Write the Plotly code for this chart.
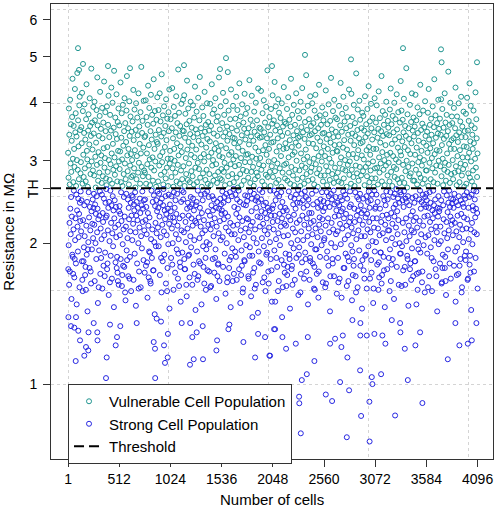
import numpy as np
import plotly.graph_objects as go

# threshold resistance (MOhm)
TH = 2.62

# resistance of cells above TH, in units of 0.01 MOhm
vulnerable_x100 = [
    312, 276, 388, 341, 267, 405, 296, 359, 284, 331, 372, 449, 303, 270, 356, 318, 291, 427, 345, 379, 265, 338, 301, 462, 287, 366, 322, 274, 394, 411, 349, 282,
    298, 354, 327, 419, 268, 383, 309, 277, 344, 396, 289, 333, 271, 368, 437, 315, 302, 264, 348, 377, 293, 325, 408, 356, 281, 339, 472, 299, 362, 317, 286, 391,
    343, 279, 401, 366, 306, 263, 328, 385, 294, 452, 357, 272, 313, 339, 283, 374, 421, 297, 351, 308, 269, 389, 335, 278, 362, 319, 443, 290, 304, 381, 347, 275,
    266, 392, 321, 284, 358, 413, 301, 337, 273, 376, 295, 348, 430, 311, 268, 399, 326, 287, 353, 467, 305, 280, 371, 342, 292, 416, 334, 271, 363, 315, 388, 299,
    357, 288, 314, 441, 270, 336, 379, 302, 265, 395, 323, 281, 347, 408, 296, 361, 274, 329, 384, 455, 308, 285, 352, 318, 267, 402, 339, 293, 373, 310, 277, 346,
    301, 364, 279, 425, 332, 289, 386, 316, 263, 349, 398, 274, 307, 371, 340, 283, 418, 297, 355, 326, 268, 381, 311, 476, 291, 344, 365, 278, 320, 403, 286, 337,
    283, 339, 404, 268, 372, 311, 295, 358, 434, 277, 324, 389, 302, 266, 347, 415, 290, 333, 376, 305, 272, 360, 448, 286, 318, 383, 299, 341, 264, 367, 329, 410,
    326, 271, 385, 349, 293, 418, 307, 364, 280, 338, 459, 298, 313, 375, 267, 344, 392, 284, 321, 356, 275, 406, 332, 290, 369, 303, 265, 381, 347, 426, 296, 315,
    368, 303, 277, 352, 429, 289, 335, 264, 391, 318, 300, 374, 283, 345, 412, 271, 327, 361, 294, 470, 308, 380, 339, 268, 356, 322, 286, 397, 313, 274, 348, 405,
    292, 347, 414, 265, 336, 378, 304, 281, 359, 445, 317, 273, 388, 329, 296, 365, 270, 342, 401, 309, 285, 353, 323, 278, 394, 337, 267, 371, 305, 432, 290, 350,
    317, 382, 270, 343, 297, 409, 331, 288, 366, 453, 276, 305, 352, 325, 264, 390, 339, 282, 374, 310, 299, 421, 346, 273, 358, 320, 287, 398, 334, 268, 363, 306,
    348, 281, 330, 397, 266, 356, 312, 437, 293, 378, 301, 272, 343, 386, 318, 279, 408, 327, 295, 364, 269, 339, 373, 284, 315, 452, 307, 350, 275, 392, 323, 288,
    273, 361, 305, 419, 338, 284, 376, 297, 266, 345, 402, 319, 290, 355, 331, 464, 278, 384, 309, 342, 268, 368, 295, 426, 313, 352, 281, 336, 393, 302, 270, 327,
    335, 292, 369, 307, 411, 276, 348, 385, 263, 320, 358, 294, 439, 329, 281, 373, 304, 266, 340, 396, 315, 287, 362, 272, 351, 417, 298, 333, 378, 309, 285, 344,
    389, 310, 276, 352, 325, 446, 298, 269, 367, 338, 284, 413, 306, 357, 291, 331, 265, 382, 346, 274, 320, 399, 303, 283, 366, 340, 278, 428, 314, 295, 353, 336,
    304, 351, 423, 287, 337, 271, 379, 316, 293, 404, 345, 266, 362, 324, 280, 391, 309, 335, 468, 277, 354, 299, 318, 372, 284, 341, 265, 387, 328, 292, 360, 414,
    277, 329, 366, 301, 442, 285, 348, 392, 269, 314, 357, 296, 335, 406, 273, 380, 322, 289, 346, 370, 307, 264, 398, 339, 283, 355, 318, 431, 294, 363, 275, 327,
    360, 296, 319, 387, 272, 344, 410, 305, 283, 367, 332, 268, 355, 449, 291, 321, 376, 309, 279, 340, 395, 266, 313, 358, 287, 328, 418, 300, 347, 274, 383, 336,
    323, 370, 286, 338, 265, 401, 311, 354, 293, 429, 276, 345, 382, 302, 268, 334, 363, 290, 317, 457, 281, 349, 306, 393, 272, 327, 368, 298, 340, 412, 284, 356,
    290, 342, 398, 274, 326, 361, 303, 267, 384, 347, 415, 295, 319, 371, 282, 336, 264, 352, 307, 436, 288, 375, 330, 279, 358, 313, 299, 390, 343, 271, 366, 322,
    344, 279, 307, 377, 424, 292, 334, 266, 359, 318, 285, 396, 341, 303, 273, 365, 328, 451, 297, 350, 281, 312, 383, 337, 269, 405, 324, 290, 371, 346, 276, 315,
    368, 314, 283, 338, 271, 393, 325, 296, 357, 440, 305, 269, 346, 378, 288, 320, 411, 275, 332, 364, 301, 286, 389, 352, 264, 317, 372, 294, 341, 309, 426, 280,
    299, 356, 331, 268, 417, 287, 343, 372, 310, 277, 395, 324, 265, 361, 339, 293, 461, 304, 282, 349, 386, 316, 272, 335, 403, 291, 367, 327, 279, 352, 308, 380,
    329, 285, 374, 302, 348, 266, 412, 337, 291, 359, 316, 278, 387, 343, 296, 433, 321, 270, 364, 309, 286, 397, 352, 275, 333, 371, 299, 318, 264, 345, 408, 289,
    275, 362, 318, 394, 290, 336, 267, 351, 422, 305, 283, 370, 328, 296, 347, 455, 271, 313, 383, 339, 287, 358, 301, 266, 376, 324, 293, 401, 342, 309, 279, 365,
    353, 297, 340, 271, 386, 312, 428, 284, 359, 326, 265, 374, 307, 345, 291, 399, 277, 333, 368, 302, 288, 416, 350, 274, 320, 381, 298, 337, 269, 362, 314, 444,
    308, 384, 276, 330, 367, 294, 345, 407, 269, 321, 356, 285, 339, 473, 300, 263, 377, 316, 291, 352, 334, 278, 395, 310, 282, 363, 327, 418, 296, 348, 272, 371,
    338, 272, 355, 309, 415, 287, 366, 320, 267, 390, 344, 298, 331, 281, 377, 305, 436, 276, 349, 315, 293, 360, 268, 384, 328, 301, 354, 274, 402, 339, 286, 323,
    286, 346, 312, 380, 265, 427, 333, 297, 358, 319, 274, 369, 341, 304, 289, 392, 327, 270, 354, 448, 310, 283, 375, 336, 293, 316, 361, 268, 343, 405, 300, 351,
    315, 369, 292, 341, 406, 278, 324, 387, 303, 266, 353, 334, 287, 418, 297, 362, 272, 339, 376, 311, 284, 347, 465, 294, 326, 358, 269, 399, 318, 281, 332, 373,
    361, 301, 274, 335, 389, 318, 283, 352, 430, 292, 340, 266, 373, 307, 329, 285, 398, 345, 270, 316, 364, 296, 411, 337, 279, 355, 305, 288, 382, 322, 264, 347,
    294, 337, 378, 268, 321, 409, 305, 348, 282, 365, 312, 439, 276, 330, 393, 299, 357, 271, 341, 318, 286, 384, 327, 265, 352, 303, 420, 290, 368, 335, 277, 311,
]

# the highest vulnerable cells, read individually
vulnerable_peak_cells = [100, 1580, 3350, 3730, 2370, 2830, 4090, 3736, 2040, 150, 400, 110, 1160, 620, 1520]
vulnerable_peak_vals = [5.22, 4.97, 5.22, 5.19, 5.05, 4.94, 4.87, 4.87, 4.78, 4.83, 4.78, 4.69, 4.80, 4.73, 4.71]

# resistance of cells below TH, in units of 0.01 MOhm
strong_x100 = [
    176, 198, 163, 221, 174, 237, 209, 251, 152, 228, 189, 187, 172, 214, 259, 169, 185, 203, 226, 181, 254, 148, 235, 217, 192, 249, 206, 231, 161, 244, 223, 258,
    212, 247, 183, 167, 158, 224, 183, 196, 241, 207, 171, 178, 159, 218, 189, 245, 143, 194, 201, 257, 227, 177, 239, 213, 174, 164, 234, 194, 220, 248, 205, 238,
    255, 219, 166, 242, 200, 231, 185, 252, 211, 237, 149, 225, 161, 193, 229, 258, 172, 215, 186, 204, 254, 160, 232, 222, 179, 249, 208, 170, 191, 244, 227, 261,
    229, 176, 181, 213, 238, 155, 245, 202, 165, 259, 188, 221, 241, 168, 210, 252, 197, 235, 146, 226, 247, 216, 182, 239, 206, 177, 187, 173, 166, 219, 163, 234,
    240, 208, 231, 185, 257, 223, 162, 171, 199, 179, 214, 251, 178, 228, 157, 151, 217, 255, 193, 184, 205, 248, 170, 238, 225, 168, 187, 212, 244, 158, 229, 253,
    203, 251, 220, 167, 242, 235, 190, 257, 211, 147, 229, 245, 181, 224, 238, 200, 160, 174, 216, 249, 232, 161, 207, 241, 195, 258, 222, 237, 184, 247, 213, 173,
    248, 224, 179, 239, 209, 182, 153, 232, 218, 169, 192, 227, 191, 166, 164, 204, 259, 186, 214, 245, 175, 175, 253, 201, 141, 240, 221, 197, 247, 210, 234, 258,
    216, 238, 197, 255, 228, 171, 244, 206, 186, 157, 249, 219, 183, 241, 261, 212, 189, 235, 225, 252, 164, 231, 208, 158, 177, 237, 199, 254, 220, 145, 242, 227,
    234, 186, 252, 215, 180, 200, 227, 159, 257, 222, 238, 173, 247, 209, 231, 194, 255, 218, 168, 190, 204, 162, 226, 182, 178, 150, 245, 213, 259, 191, 229, 248,
    257, 211, 185, 176, 176, 222, 201, 163, 154, 237, 215, 244, 188, 229, 189, 169, 239, 207, 251, 196, 226, 242, 163, 218, 249, 180, 235, 203, 172, 223, 144, 241,
    221, 245, 192, 167, 259, 170, 227, 183, 205, 238, 181, 217, 254, 148, 232, 210, 247, 197, 178, 224, 164, 255, 213, 186, 159, 194, 201, 258, 175, 234, 219, 251,
    174, 199, 229, 161, 214, 162, 241, 220, 252, 185, 235, 207, 248, 173, 226, 186, 194, 238, 152, 217, 245, 170, 180, 181, 210, 237, 166, 223, 249, 203, 242, 231,
    235, 258, 206, 178, 244, 225, 251, 190, 232, 156, 216, 255, 200, 165, 169, 228, 247, 212, 177, 184, 257, 221, 146, 187, 209, 252, 195, 166, 218, 261, 172, 239,
    209, 192, 254, 187, 231, 167, 248, 219, 237, 203, 259, 176, 227, 245, 149, 213, 171, 193, 179, 223, 157, 160, 242, 206, 184, 183, 253, 215, 241, 198, 226, 246,
    252, 225, 170, 168, 211, 188, 196, 258, 218, 154, 234, 249, 188, 222, 173, 205, 255, 177, 160, 214, 247, 163, 238, 200, 251, 228, 142, 245, 192, 182, 260, 217,
    227, 181, 248, 234, 205, 257, 165, 220, 241, 197, 169, 213, 232, 158, 244, 189, 226, 191, 209, 238, 174, 164, 216, 235, 201, 259, 185, 229, 175, 150, 237, 222,
    241, 214, 259, 193, 229, 150, 247, 204, 186, 255, 178, 223, 158, 210, 166, 252, 231, 198, 239, 217, 257, 184, 226, 245, 161, 234, 207, 180, 220, 173, 238, 190,
    218, 162, 235, 171, 178, 208, 228, 258, 189, 185, 145, 224, 251, 200, 176, 179, 163, 215, 242, 195, 230, 249, 167, 211, 237, 254, 186, 221, 244, 203, 260, 155,
    189, 196, 224, 244, 157, 172, 212, 255, 182, 229, 247, 203, 238, 168, 219, 258, 191, 185, 251, 174, 226, 241, 207, 148, 248, 215, 232, 167, 186, 183, 221, 199,
    232, 255, 209, 181, 242, 223, 160, 178, 159, 194, 215, 259, 194, 172, 245, 206, 238, 153, 174, 219, 227, 187, 248, 212, 240, 198, 257, 225, 165, 234, 246, 203,
    205, 238, 161, 218, 164, 186, 257, 192, 244, 226, 179, 252, 211, 239, 143, 170, 255, 200, 221, 248, 185, 181, 214, 259, 170, 242, 228, 196, 251, 209, 235, 156,
    244, 212, 186, 165, 229, 241, 168, 220, 251, 199, 234, 153, 247, 215, 237, 258, 177, 226, 177, 204, 254, 190, 231, 218, 162, 249, 187, 208, 166, 183, 222, 239,
    258, 227, 242, 198, 216, 151, 192, 171, 210, 179, 185, 237, 222, 257, 170, 157, 204, 229, 251, 161, 235, 213, 248, 193, 224, 255, 179, 241, 207, 232, 145, 184,
    219, 249, 175, 235, 168, 207, 188, 227, 189, 252, 160, 231, 214, 245, 197, 258, 222, 238, 168, 211, 247, 184, 173, 254, 202, 226, 149, 160, 216, 259, 192, 237,
    239, 201, 254, 226, 180, 245, 215, 159, 182, 169, 208, 237, 191, 191, 222, 164, 171, 229, 210, 252, 187, 175, 247, 146, 219, 241, 203, 258, 230, 176, 248, 213,
    226, 186, 213, 158, 194, 257, 166, 232, 180, 205, 220, 185, 251, 238, 152, 228, 255, 199, 242, 216, 261, 178, 234, 209, 249, 224, 163, 244, 200, 190, 257, 190,
    254, 162, 197, 247, 221, 175, 239, 258, 211, 178, 163, 249, 226, 202, 245, 188, 185, 252, 147, 218, 241, 207, 176, 181, 229, 167, 213, 195, 250, 234, 170, 223,
    211, 244, 183, 183, 252, 227, 148, 172, 216, 159, 201, 194, 173, 248, 223, 259, 191, 237, 209, 245, 165, 174, 254, 218, 198, 242, 228, 157, 251, 206, 239, 255,
    247, 190, 229, 161, 208, 238, 170, 257, 222, 244, 196, 214, 186, 158, 235, 226, 259, 183, 241, 203, 232, 248, 176, 217, 170, 211, 143, 238, 228, 252, 199, 234,
    237, 181, 217, 202, 247, 164, 165, 177, 189, 241, 225, 258, 210, 177, 187, 166, 155, 222, 253, 205, 233, 194, 244, 213, 259, 181, 239, 228, 168, 249, 219, 243,
    224, 208, 248, 238, 179, 255, 221, 192, 150, 245, 212, 171, 196, 229, 241, 172, 252, 206, 179, 219, 185, 247, 231, 157, 161, 214, 243, 201, 239, 227, 253, 188,
    249, 184, 192, 215, 257, 225, 167, 168, 238, 204, 251, 180, 188, 173, 214, 144, 254, 221, 199, 240, 235, 259, 174, 211, 248, 227, 186, 237, 258, 209, 232, 160,
]

# the low tail of the strong population, read individually
strong_tail_cells = [
    4, 80, 30, 63, 103, 120, 77, 180, 163, 203, 205, 293, 295, 257, 380, 387, 477, 490, 420, 523,
    687, 857, 870, 872, 960, 970, 997, 999, 887, 930, 1220, 1257, 1350, 1243, 1287, 1347, 1222, 1137, 1491, 1484,
    1604, 1614, 1754, 1871, 1901, 1971, 2014, 2061, 1844, 760, 2071, 2144, 2181, 2278, 2398, 2464, 2338, 2388, 2311, 2313,
    2328, 2578, 2641, 2721, 2811, 2788, 2794, 2921, 2931, 3014, 3016, 3038, 3044, 3131, 3271, 3398, 3544, 3798, 3914, 3998,
    4038, 4084, 2621, 2671, 2734, 2748, 2923, 2988, 3064, 3174, 3144, 3324, 3368, 3474, 3521, 3874, 2021, 2141, 2844, 2924,
    3238, 3321,
]
strong_tail_vals = [
    1.39, 1.39, 1.33, 1.32, 1.30, 1.24, 1.12, 1.20, 1.15, 1.18, 1.29, 1.29, 1.24, 1.35, 1.03, 1.14, 1.21, 1.26, 1.34, 1.33,
    1.35, 1.23, 1.19, 1.03, 1.21, 1.11, 1.14, 1.28, 1.38, 1.36, 1.10, 1.13, 1.13, 1.26, 1.29, 1.33, 1.35, 1.35, 1.24, 1.18,
    1.31, 1.34, 1.23, 1.14, 1.28, 1.26, 1.15, 1.31, 1.39, 0.74, 1.31, 1.26, 1.19, 1.22, 1.26, 1.12, 1.02, 1.05, 0.94, 0.91,
    0.785, 0.95, 0.92, 1.01, 0.97, 0.77, 1.14, 1.07, 0.855, 0.917, 0.754, 1.035, 1.00, 1.05, 0.857, 1.02, 0.911, 1.13, 1.21, 1.22,
    1.24, 1.35, 1.22, 1.25, 1.20, 1.27, 1.27, 1.27, 1.28, 1.22, 1.27, 1.29, 1.19, 1.21, 1.29, 1.35, 1.15, 1.39, 1.37, 1.35,
    1.37, 1.35,
]

x_ticks = [1, 512, 1024, 1536, 2048, 2560, 3072, 3584, 4096]
y_ticks = [1, 2, 3, 4, 5, 6]

X_RANGE = [-170, 4250]
Y_RANGE = [-0.160, 0.812]  # log10 units

TEAL = "#1f9590"
BLUE = "#2626e2"
FONT = "Liberation Sans, Arial, sans-serif"

# bulk cells are spread over the 4096 cell indices
vuln_cells = np.round(np.linspace(1, 4095, len(vulnerable_x100)))
strong_cells = np.round(np.linspace(3, 4096, len(strong_x100)))

vx = np.concatenate([vuln_cells, vulnerable_peak_cells])
vy = np.concatenate([np.array(vulnerable_x100) / 100, vulnerable_peak_vals])
sx = np.concatenate([strong_cells, strong_tail_cells])
sy = np.concatenate([np.array(strong_x100) / 100, strong_tail_vals])

fig = go.Figure()

fig.add_trace(go.Scatter(
    x=vx, y=vy, mode="markers", name="Vulnerable Cell Population",
    marker=dict(symbol="circle-open", size=5, color=TEAL, line=dict(width=1, color=TEAL)),
))
fig.add_trace(go.Scatter(
    x=sx, y=sy, mode="markers", name="Strong Cell Population",
    marker=dict(symbol="circle-open", size=5, color=BLUE, line=dict(width=1, color=BLUE)),
))
fig.add_trace(go.Scatter(
    x=X_RANGE, y=[TH, TH], mode="lines", name="Threshold",
    line=dict(color="black", width=2, dash="10px,5px"),
))

# rotated TH label next to the y axis
fig.add_annotation(
    text="TH", x=-0.041, xref="paper", y=np.log10(TH), yref="y",
    textangle=-90, showarrow=False, font=dict(size=14, color="black", family=FONT),
    xanchor="center", yanchor="middle",
)
fig.add_annotation(
    text="Resistance in M\u03a9", x=-0.097, xref="paper", y=0.5, yref="paper",
    textangle=-90, showarrow=False, font=dict(size=15, color="black", family=FONT),
    xanchor="center", yanchor="middle",
)
fig.add_annotation(
    text="Number of cells", x=0.5, xref="paper", y=-0.09, yref="paper",
    showarrow=False, font=dict(size=15, color="black", family=FONT),
    xanchor="center", yanchor="middle",
)

axis_common = dict(
    showline=True, mirror=True, linecolor="#333", linewidth=1,
    ticks="outside", ticklen=7, tickcolor="#333", tickwidth=1,
    showgrid=False, zeroline=False,
    tickfont=dict(size=14, color="black", family=FONT),
)

fig.update_xaxes(
    range=X_RANGE, tickvals=x_ticks, ticktext=[str(t) for t in x_ticks],
    minor=dict(tickvals=[0, 1000, 2000, 3000, 4000], showgrid=True,
               gridcolor="#d4d4d4", griddash="dot", gridwidth=1, ticklen=0),
    **axis_common,
)
fig.update_yaxes(
    type="log", range=Y_RANGE,
    tickvals=y_ticks + [TH], ticktext=[str(t) for t in y_ticks] + [""],
    ticklabelstandoff=3,
    minor=dict(tickvals=[10 ** (k / 5) for k in range(5)], showgrid=True,
               gridcolor="#d4d4d4", griddash="dot", gridwidth=1, ticklen=0),
    **axis_common,
)

fig.update_layout(
    width=498, height=512,
    margin=dict(l=51, r=5, t=4, b=53),
    paper_bgcolor="white", plot_bgcolor="white",
    font=dict(family=FONT, color="black"),
    showlegend=True,
    legend=dict(
        x=0.0385, y=0.1648, xanchor="left", yanchor="top",
        bgcolor="white", bordercolor="#333", borderwidth=1,
        font=dict(size=15, color="black", family=FONT),
        tracegroupgap=0,
    ),
)

# drop the browser's default body margin so the figure sits at the page corner
fig.write_html(
    "out.html",
    config={"displayModeBar": False},
    post_script="document.body.style.margin='0';",
)
